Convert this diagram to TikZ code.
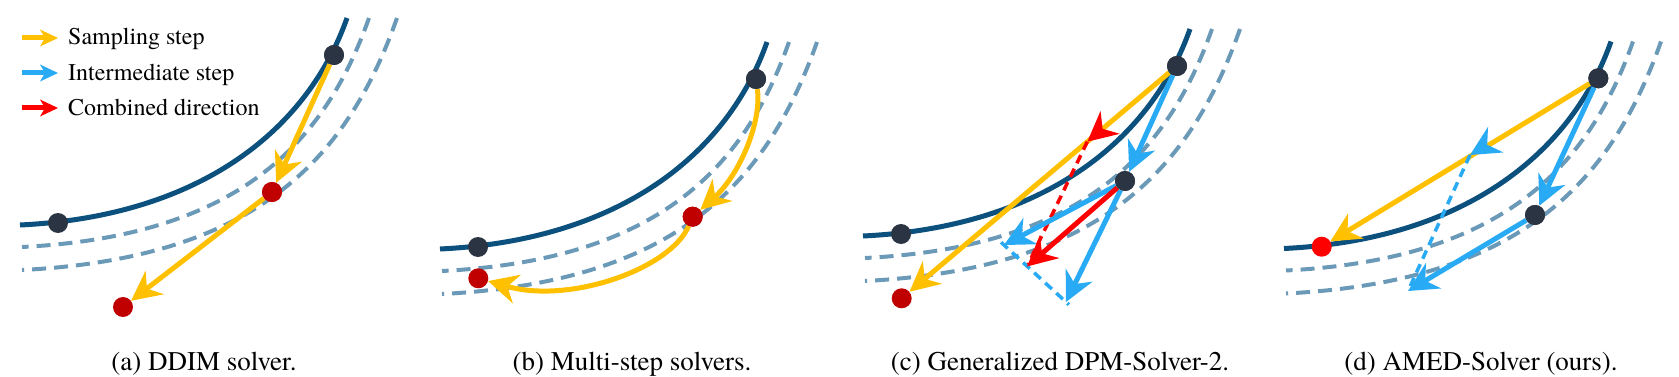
\documentclass[tikz,border=0pt]{standalone}
\usepackage{fontspec}
\IfFontExistsTF{TeX Gyre Termes}{\setmainfont{TeX Gyre Termes}}{\setmainfont{Liberation Serif}}
\usetikzlibrary{arrows.meta,calc}
\definecolor{traj}{HTML}{0C507D}
\definecolor{lev}{HTML}{6B9AB9}
\definecolor{ylw}{HTML}{FFC000}
\definecolor{sky}{HTML}{29AAF4}
\definecolor{rd}{HTML}{FF0000}
\definecolor{drd}{HTML}{C00000}
\definecolor{dotc}{HTML}{2B3442}
\tikzset{
  pics/trajset/.style={code={
    \draw[lev, line width=4pt, dash pattern=on 14pt off 8pt] (369,18) .. controls (324,145) and (237,236) .. (22,247);
    \draw[lev, line width=4pt, dash pattern=on 14pt off 8pt] (397,18) .. controls (347,159) and (257,258) .. (22,270);
    \draw[traj, line width=5pt] (347,18) .. controls (309,126) and (205,216) .. (20,225);
  }},
  dk/.style={circle, fill=dotc, inner sep=0pt, minimum size=20pt},
  rdot/.style={circle, fill=drd, inner sep=0pt, minimum size=20pt},
  brdot/.style={circle, fill=rd, inner sep=0pt, minimum size=20pt},
  tipped/.style={line width=5pt, -{Stealth[length=30pt,width=30pt,inset=10pt,line width=0pt]}},
  yarr/.style={tipped, draw=ylw},
  barr/.style={tipped, draw=sky},
  rarr/.style={tipped, draw=rd},
  bdash/.style={draw=sky, line width=3.5pt, dash pattern=on 9pt off 6pt},
  rdash/.style={draw=rd, line width=3.5pt, dash pattern=on 9pt off 6pt},
  legarr/.style={line width=5pt, -{Stealth[length=18pt,width=17pt,inset=5pt,line width=0pt]}},
  legtxt/.style={anchor=base west, inner sep=0pt, font=\rmfamily\fontsize{24pt}{24pt}\selectfont},
  captxt/.style={anchor=base, inner sep=0pt, font=\rmfamily\fontsize{27pt}{27pt}\selectfont},
}
\begin{document}
\begin{tikzpicture}[x={(1pt,0pt)}, y={(0pt,-1pt)}]
\useasboundingbox (0,0) rectangle (1679,377);

% ---------------- panel (a)
\pic at (0,0) {trajset};
\node[dk] (a1) at (334,55) {};
\node[dk] (a0) at (58,223) {};
\node[rdot] (ar1) at (272,192) {};
\node[rdot] (ar2) at (123,307) {};
\draw[yarr] (a1) -- (ar1);
\draw[yarr] (ar1) -- (ar2);
\node[dk] at (a1) {};
\node[rdot] at (ar1) {};

% legend
\coordinate (ly0) at (22,38);  \coordinate (ly1) at (58,38);
\coordinate (lb0) at (22,73);  \coordinate (lb1) at (58,73);
\coordinate (lr0) at (22,108); \coordinate (lr1) at (58,108);
\draw[legarr, draw=ylw] (ly0) -- (ly1);
\draw[legarr, draw=sky] (lb0) -- (lb1);
\draw[legarr, draw=rd] (lr0) -- (lr1);
\node[legtxt] (lty) at (68,45) {Sampling step};
\node[legtxt] (ltb) at (68,80.5) {Intermediate step};
\node[legtxt] (ltr) at (68,116) {Combined direction};

% ---------------- panel (b)
\pic at (420,24) {trajset};
\node[dk] (b1) at (756,79) {};
\node[dk] (b0) at (478,247) {};
\node[rdot] (br1) at (692.7,216.7) {};
\node[rdot] (br2) at (478.3,278.3) {};
\draw[yarr] (b1) .. controls (762,124) and (738,176) .. (br1);
\draw[yarr] (br1) .. controls (670,269) and (570,304) .. (br2);
\node[dk] at (b1) {};
\node[rdot] at (br1) {};

% ---------------- panel (c)
\pic at (843,11) {trajset};
\node[dk] (ctop) at (1177,66) {};
\node[dk] (cmid) at (1125,181) {};
\node[dk] (c0) at (901,234) {};
\node[rdot] (cred) at (901.7,298.3) {};
\coordinate (cb2) at (1004,245);
\coordinate (cb3) at (1066,302);
\coordinate (crt) at (1027,266.5);
\coordinate (chd) at (1087.3,141.7);
\draw[yarr] (ctop) -- (cred);
\draw[barr] (ctop) -- (cmid);
\draw[rdash] (chd) -- (crt);
\draw[bdash, shorten <=-4pt, shorten >=-4pt] (cb2) -- (cb3);
\draw[barr] (cmid) -- (cb2);
\draw[barr] (cmid) -- (cb3);
\draw[rarr] (cmid) -- (crt);
\coordinate (chb) at ($(chd)!30pt!(ctop)$);
\fill[rd] (chd) -- ($(chb)!15pt!90:(chd)$) -- ($(chd)!20pt!(ctop)$) -- ($(chb)!15pt!-90:(chd)$) -- cycle;
\node[dk] at (ctop) {};
\node[dk] at (cmid) {};

% ---------------- panel (d)
\pic at (1264,23.5) {trajset};
\node[dk] (dtop) at (1598.3,78.3) {};
\node[dk] (dmid) at (1535,215) {};
\node[brdot] (dred) at (1321.7,246.7) {};
\coordinate (dbt) at (1408,291);
\coordinate (dhd) at (1470,155);
\draw[yarr] (dtop) -- (dred);
\draw[barr] (dtop) -- (dmid);
\draw[bdash] (dhd) -- (dbt);
\draw[barr] (dmid) -- (dbt);
\coordinate (dhb) at ($(dhd)!30pt!(dtop)$);
\fill[sky] (dhd) -- ($(dhb)!15pt!90:(dhd)$) -- ($(dhd)!20pt!(dtop)$) -- ($(dhb)!15pt!-90:(dhd)$) -- cycle;
\node[dk] at (dtop) {};
\node[dk] at (dmid) {};

% ---------------- captions
\node[captxt] (capa) at (204,370) {(a) DDIM solver.};
\node[captxt] (capb) at (632,370) {(b) Multi-step solvers.};
\node[captxt] (capc) at (1060,370) {(c) Generalized DPM-Solver-2.};
\node[captxt] (capd) at (1481,370) {(d) AMED-Solver (ours).};
\end{tikzpicture}
\end{document}
